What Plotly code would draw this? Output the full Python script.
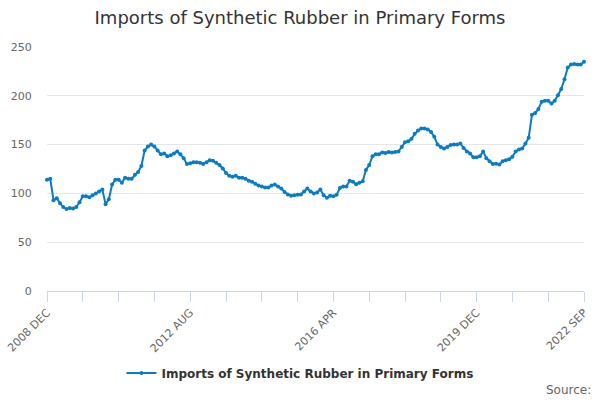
import plotly.graph_objects as go

MONTHS = ["JAN", "FEB", "MAR", "APR", "MAY", "JUN", "JUL", "AUG", "SEP", "OCT", "NOV", "DEC"]
categories = ["2008 DEC"] + [f"{y} {m}" for y in range(2009, 2023) for m in MONTHS]
categories = categories[:166]

values = [
    114, 115, 93, 95, 90, 86, 84, 85, 84.5, 86,
    91, 97, 97, 96, 98, 100, 102, 104, 89, 94,
    109, 114, 114, 111, 116, 115, 115, 119, 122, 128,
    144, 148, 150, 148, 144, 140, 141, 138, 139, 141,
    143, 140, 136, 130, 131, 132, 132, 131.5, 130, 132,
    134, 133.5, 131.5, 129, 125.5, 121, 118, 117, 118, 116,
    116, 115, 113, 112, 110, 108, 107, 106, 106, 108,
    109, 107, 105, 101.5, 99, 97.5, 98, 98.5, 99, 102,
    105, 102, 100, 101, 104, 98, 95.5, 97.5, 97, 98.5,
    105.5, 107, 107, 113, 112, 109.5, 111, 112.5, 124, 129,
    138, 140, 140, 142, 141.5, 142.5, 142, 142.5, 143, 147.5,
    152.5, 153.5, 156, 161, 164.5, 166.5, 166.5, 165.5, 163, 158,
    150, 147.5, 146, 147.5, 149.5, 150, 150, 151, 146.5, 143,
    141, 137, 137, 138, 143, 136, 133, 130, 130.5, 129.5,
    133, 134, 135, 137.5, 143, 145, 146, 151, 157, 180.5,
    182.5, 186.5, 194, 195, 195, 192, 195, 200.5, 207, 217,
    229, 232, 232.5, 232, 232, 235,
]

series_name = "Imports of Synthetic Rubber in Primary Forms"
title_text = "Imports of Synthetic Rubber in Primary Forms"
label_cats = ["2008 DEC", "2012 AUG", "2016 APR", "2019 DEC", "2022 SEP"]
y_ticks = [0, 50, 100, 150, 200, 250]

tick_cats = categories[::11]
tick_text = [c if c in label_cats else "" for c in tick_cats]

FONT = "DejaVu Sans"
color = "#0b7cc1"

fig = go.Figure()
fig.add_trace(go.Scatter(
    x=categories, y=values, mode="lines+markers", name=series_name,
    line=dict(color=color, width=2),
    marker=dict(color=color, size=4),
    cliponaxis=False,
))

fig.update_layout(
    width=600, height=400,
    margin=dict(l=47, r=16, t=47, b=109),
    paper_bgcolor="white", plot_bgcolor="white",
    font=dict(family=FONT, color="#666666", size=11),
    title=dict(text=title_text, x=0.5, xanchor="center", y=0.955, yanchor="middle",
               font=dict(family=FONT, size=18, color="#333333")),
    showlegend=True,
    legend=dict(orientation="h", x=0.471, xanchor="center", y=-0.336, yanchor="middle",
                font=dict(family=FONT, size=12, color="#333333", weight="bold"),
                itemwidth=30),
    annotations=[dict(text="Source:", xref="paper", yref="paper", x=1.0 + 9/537, y=-109/244 + 10/244,
                      xanchor="right", yanchor="middle", showarrow=False,
                      font=dict(family=FONT, size=12, color="#666666"))],
)

fig.update_xaxes(
    type="category", range=[0, len(categories) - 1], automargin=False,
    tickmode="array", tickvals=tick_cats, ticktext=tick_text,
    tickangle=-45, ticks="outside", ticklen=10, tickcolor="#ccd6eb",
    showline=True, linecolor="#ccd6eb", linewidth=1,
    showgrid=False, tickfont=dict(family=FONT, size=11, color="#666666"),
)
fig.update_yaxes(
    range=[0, 250], tickmode="array", tickvals=y_ticks, automargin=False,
    showgrid=True, gridcolor="#e6e6e6", gridwidth=1, zeroline=False,
    showline=False, ticks="outside", ticklen=12, tickcolor="rgba(0,0,0,0)",
    tickfont=dict(family=FONT, size=11, color="#666666"),
)

fig.write_html("out.html")
